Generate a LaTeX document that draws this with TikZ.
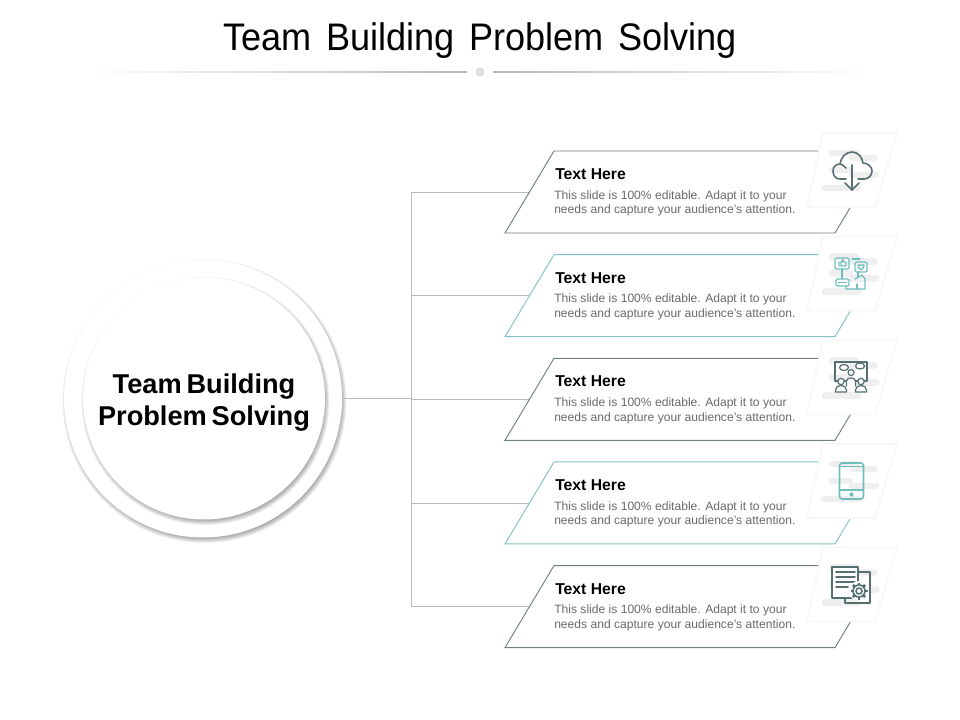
\documentclass[tikz,border=0pt]{standalone}
\usepackage{fontspec}
\setmainfont{Liberation Sans}
\newfontfamily\titlefont[FakeStretch=0.94]{Liberation Sans}
\definecolor{dk}{HTML}{566F70}
\definecolor{tl}{HTML}{6FBDBD}
\definecolor{dkline}{HTML}{708080}
\definecolor{tlline}{HTML}{84C2C2}
\definecolor{body}{HTML}{6A6A6A}
\definecolor{conn}{HTML}{B8B8B8}
\definecolor{blob}{HTML}{EFEFEF}
\tikzset{
  px/.style={x=0.75pt,y=-0.75pt},
  connector/.style={draw=conn,line width=0.6pt},
  headtext/.style={anchor=base west,inner sep=0,font=\fontsize{11.8}{13}\selectfont\bfseries,text=black},
  bodytext/.style={anchor=west,inner sep=0,align=left,font=\fontsize{9.07}{11}\selectfont,text=body},
  tile/.style={fill=white,draw=blob!50,line width=1.2pt},
  blobbar/.style={draw=blob,line width=5pt,line cap=round},
  icon/.style={line width=1.2pt,line cap=round,line join=round},
  disc/.style={circle,fill=white,inner sep=0},
}
\newcommand{\softshadow}[3]{%
  \foreach \k in {0,...,7}{\fill[black,opacity=0.05] (#1+1.5,#2+2.5) circle ({#3+3-\k*0.8});}%
}
\begin{document}
\begin{tikzpicture}[px]
\useasboundingbox (0,0) rectangle (960,720);
\fill[white] (0,0) rectangle (960,720);
% title
\node[inner sep=0,anchor=base] (title) at (480,51) {\fontsize{28.8}{32}\titlefont Team\hspace{3.5pt} Building\hspace{3.5pt} Problem\hspace{3.5pt} Solving};
\shade[left color=white,right color=conn] (85,71.6) rectangle (467,72.4);
\shade[left color=conn,right color=white] (493,71.6) rectangle (875,72.4);
\node[circle,fill=black!13,inner sep=0,minimum size=7pt] (dot) at (480,72) {};
% circles
\softshadow{203}{398.5}{139}
\node[disc,minimum size=208.5pt] (outer) at (203,398.5) {};
\softshadow{204}{398.5}{121}
\node[disc,minimum size=181.5pt] (inner) at (204,398.5) {};
\node[inner sep=0,align=center,font=\fontsize{20.4}{24}\selectfont\bfseries] (centre) at (204,403) {Team\hspace{-2pt} Building\\Problem\hspace{-2pt} Solving};
% connectors and rows
\coordinate (jc) at (411,398.5);
\draw[connector] (outer.east) -- (jc);
\foreach \i/\col/\lin in {0/dk/dkline,1/tl/tlline,2/dk/dkline,3/tl/tlline,4/dk/dkline}{
\begin{scope}[shift={(0,\i*103.65)}]
  \coordinate (b\i) at (411,192);
  \coordinate (m\i) at (529.5,192);
  \draw[connector] (b\i) -- (m\i);
  \draw[\lin,line width=0.7pt] (554,151) -- (884,151) -- (835,233) -- (505,233) -- cycle;
  \draw[tile] (823,133) -- (897,133) -- (875,207) -- (807,207) -- cycle;
  \draw[blobbar] (832,153) -- (856,153);
  \draw[blobbar] (852,158) -- (874,158);
  \draw[blobbar] (832,170) -- (850,170);
  \draw[blobbar] (852,175) -- (876,175);
  \draw[blobbar] (825,188) -- (858,188);
  \node[headtext] (h\i) at (555,179.5) {Text Here};
  \node[bodytext] (t\i) at (554,203.5) {This slide is 100\% editable. Adapt it to your\\needs and capture your audience's attention.};
\end{scope}
}
\draw[connector] (b0) -- (b4);
% icon 1: cloud
\begin{scope}[icon,draw=dk]
\draw (846,179) -- (840,179) .. controls (835,179) and (833,175) .. (833,171) .. controls (833,167) and (836,164) .. (840,164) .. controls (841,157) and (846,152) .. (852,152) .. controls (858,152) and (862,157) .. (863,163) .. controls (868,163) and (872,167) .. (872,171) .. controls (872,176) and (868,179) .. (864,179) -- (858,179);
\draw (846,168) .. controls (843,165) and (841,164) .. (840,164);
\draw (852,165) -- (852,190);
\draw (845,183) -- (852,190) -- (859,183);
\end{scope}
% icon 2: social
\begin{scope}[icon,draw=tl,line width=0.95pt]
\draw[rounded corners=1pt] (835,258) rectangle (849,269);
\draw (839,266) -- (839,262) (841,266) -- (846,266) -- (846,262) -- (843,262) -- (843,259.5) -- (841,262) -- cycle;
\draw (842,269) -- (842,279);
\draw[rounded corners=1pt] (836,279) rectangle (849,286);
\draw (838.5,282.5) -- (846,282.5);
\draw[rounded corners=1pt] (855,262) rectangle (867,272) ;
\draw (861,270) .. controls (856,266) and (858,263.5) .. (861,265.5) .. controls (864,263.5) and (866,266) .. (861,270);
\draw (852,259) -- (860,259) (858,272) -- (858,277);
\draw (855,279) -- (862,275) -- (865,279) -- (865,289) -- (846,289) -- (846,286);
\draw (857,284) -- (857,289);
\end{scope}
% icon 3: meeting
\begin{scope}[icon,draw=dk,line width=0.9pt]
\draw (835,362) rectangle (867,381);
\draw[fill=white] (844,367.5) ellipse (4.5 and 3);
\draw[fill=white] (860,366) ellipse (4.5 and 3);
\draw[fill=white] (851,372.5) circle (3);
\draw[fill=white] (846.5,386) -- (846.5,381) .. controls (846.5,377) and (855.5,377) .. (855.5,381) -- (855.5,386);
\draw[fill=white] (841,381.5) circle (3.2);
\draw[fill=white] (861,381.5) circle (3.2);
\draw[fill=white] (835.5,392) -- (835.5,390) .. controls (835.5,384) and (846.5,384) .. (846.5,390) -- (846.5,392) -- cycle;
\draw[fill=white] (855.5,392) -- (855.5,390) .. controls (855.5,384) and (866.5,384) .. (866.5,390) -- (866.5,392) -- cycle;
\end{scope}
% icon 4: tablet
\begin{scope}[icon,draw=tl]
\draw[rounded corners=2pt] (839.5,463) rectangle (863.5,499);
\draw (839.5,466.5) -- (863.5,466.5);
\draw (839.5,490) -- (863.5,490);
\draw (851.5,494.5) circle (1.5);
\end{scope}
% icon 5: document and gear
\begin{scope}[icon,draw=dk,line width=1.2pt]
\draw (858,572) -- (870,572) -- (870,603) -- (845,603) -- (845,598);
\draw[fill=white] (832,567) rectangle (858,598);
\draw (836,572) -- (855,572) (836,577) -- (855,577) (836,582) -- (855,582) (836,587) -- (848,587);
\fill[white] (859,591) circle (10);
\foreach \a in {0,45,...,315}{\draw[line width=2pt,line cap=butt] (859,591) ++(\a:5.5) -- ++(\a:3);}
\draw[fill=white] (859,591) circle (6);
\draw (859,591) circle (3);
\end{scope}
\end{tikzpicture}
\end{document}
